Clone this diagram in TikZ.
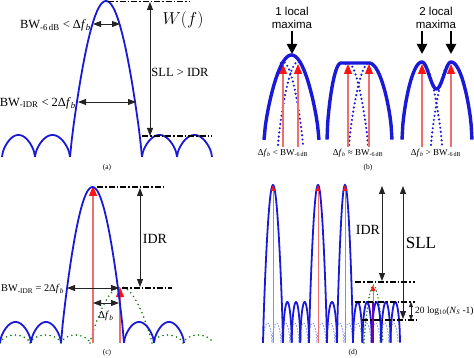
\documentclass[tikz,border=0pt]{standalone}
\usepackage{fontspec}
\setmainfont{Liberation Serif}
\newfontfamily\arialf{Liberation Sans}
\usetikzlibrary{arrows.meta}
\definecolor{lobeblue}{RGB}{25,25,215}
\definecolor{arrred}{RGB}{240,110,110}
\definecolor{headred}{RGB}{250,20,20}
\definecolor{grn}{RGB}{20,125,20}
\definecolor{ltblue}{RGB}{120,140,235}
\definecolor{dimgray}{RGB}{35,35,35}
\definecolor{purp}{RGB}{120,0,170}
\newcommand{\lobe}[6][]{\draw[#1] plot[domain=0:180,samples=41,variable=\t] ({#2+(#3-#2)*\t/180},{#4-#5*pow(max(sin(\t),0.0001),#6)});}
\newcommand{\lobepart}[8][]{\draw[#1] plot[domain=#7:#8,samples=30,variable=\t] ({#2+(#3-#2)*\t/180},{#4-#5*pow(max(sin(\t),0.0001),#6)});}
\newcommand{\dfb}{Δ\textit{f}\textsubscript{\textit{b}}}
\newcommand{\bwsix}{BW\textsubscript{-6\,dB}}
\newcommand{\bwidr}{BW\textsubscript{-IDR}}
\tikzset{
  bluelobe/.style={lobeblue,line width=1.8pt},
  thicklobe/.style={lobeblue,line width=3.4pt},
  dotlobe/.style={lobeblue,line width=2.4pt,line cap=round,dash pattern=on 0pt off 4.2pt},
  greenlobe/.style={grn,line width=1.8pt,line cap=round,dash pattern=on 0pt off 4.6pt},
  ltlobe/.style={ltblue,line width=0.8pt,dash pattern=on 1.5pt off 1.5pt},
  redarr/.style={arrred,line width=1.2pt,-{Triangle[length=10pt,width=8pt,color=headred]}},
  redarrs/.style={arrred,line width=1pt,-{Triangle[length=6pt,width=4.5pt,color=headred]}},
  blackarr/.style={black,line width=2.4pt,-{Triangle[length=10pt,width=10pt]}},
  dimarr/.style={dimgray,line width=0.9pt,{Triangle[length=8pt,width=6pt]}-{Triangle[length=8pt,width=6pt]}},
  dimarrs/.style={dimgray,line width=0.8pt,{Triangle[length=5pt,width=4pt]}-{Triangle[length=5pt,width=4pt]}},
  dashdot/.style={black,line width=1.2pt,dash pattern=on 6pt off 2pt on 1.5pt off 2pt},
  lbl/.style={inner sep=0pt,font=\fontsize{12.5}{14}\selectfont},
  caplbl/.style={inner sep=0pt,font=\fontsize{7.5}{9}\selectfont},
  sanslbl/.style={inner sep=0pt,align=center,font=\arialf\fontsize{11.5}{12.5}\selectfont},
  smalllbl/.style={inner sep=0pt,font=\fontsize{9}{10}\selectfont}
}
\begin{document}
\begin{tikzpicture}[x=1pt,y=-1pt]
\useasboundingbox (0,0) rectangle (474,358);
% ---------------- (a)
\lobe[bluelobe]{2}{35}{157}{22}{0.6}
\lobe[bluelobe]{35}{70}{157}{22}{0.6}
\lobe[bluelobe]{70}{142}{157}{156}{0.86}
\lobe[bluelobe]{142}{177}{157}{22}{0.6}
\lobe[bluelobe]{177}{212}{157}{22}{0.6}
\coordinate (aT1) at (108,1.5); \coordinate (aT2) at (190,1.5);
\coordinate (aB1) at (142,136); \coordinate (aB2) at (212,136);
\draw[dashdot] (aT1) -- (aT2);
\draw[dashdot] (aB1) -- (aB2);
\coordinate (aV1) at (150,2); \coordinate (aV2) at (150,136);
\draw[dimarr] (aV1) -- (aV2);
\node[lbl,font=\fontsize{19}{21}\selectfont] (wf) at (183,20) {$W(f)$};
\node[lbl] (sll) at (180,72) {SLL > IDR};
\coordinate (a6L) at (93,24); \coordinate (a6R) at (120,24);
\draw[dimarr] (a6L) -- (a6R);
\node[lbl,anchor=east] (bw6a) at (91,25) {\bwsix{} < \dfb};
\coordinate (aiL) at (78,102); \coordinate (aiR) at (136,102);
\draw[dimarr] (aiL) -- (aiR);
\node[lbl,anchor=east] (bwia) at (76,103) {\bwidr{} < 2\dfb};
\node[caplbl] (capa) at (107,168) {(a)};
% ---------------- (b)
% left
\lobepart[dotlobe]{263}{303}{145}{83}{0.8}{80}{180}
\lobepart[dotlobe]{278}{318}{145}{83}{0.8}{0}{100}
\coordinate (r1b) at (283,147); \coordinate (r1t) at (283,64);
\coordinate (r2b) at (298,147); \coordinate (r2t) at (298,64);
\draw[redarr] (r1b) -- (r1t);
\draw[redarr] (r2b) -- (r2t);
\lobe[thicklobe]{264}{319}{140}{85}{0.7}
\node[sanslbl] (lm1) at (292,18) {1 local\\maxima};
\coordinate (k1a) at (292,31); \coordinate (k1b) at (292,54);
\draw[blackarr] (k1a) -- (k1b);
\node[smalllbl] (tb1) at (283,153) {\dfb{} < \bwsix};
% middle
\lobepart[dotlobe]{328}{368}{145}{82}{0.8}{80}{180}
\lobepart[dotlobe]{349}{389}{145}{82}{0.8}{0}{100}
\coordinate (r3b) at (348,147); \coordinate (r3t) at (348,64);
\coordinate (r4b) at (369,147); \coordinate (r4t) at (369,64);
\draw[redarr] (r3b) -- (r3t);
\draw[redarr] (r4b) -- (r4t);
\draw[thicklobe,line join=round] plot[domain=0:90,samples=25,variable=\t] ({327+14*\t/90},{140-77*pow(max(sin(\t),0.0001),0.6)})
  -- plot[domain=90:180,samples=25,variable=\t] ({369+23*(\t-90)/90},{140-77*pow(max(sin(\t),0.0001),0.6)});
\node[smalllbl] (tb2) at (358,153) {\dfb{} ≈ \bwsix};
% right
\lobepart[dotlobe]{402}{442}{145}{83}{0.8}{100}{180}
\lobepart[dotlobe]{431}{471}{145}{83}{0.8}{0}{80}
\coordinate (r5b) at (422,147); \coordinate (r5t) at (422,64);
\coordinate (r6b) at (451,147); \coordinate (r6t) at (451,64);
\draw[redarr] (r5b) -- (r5t);
\draw[redarr] (r6b) -- (r6t);
\draw[thicklobe,line join=round] plot[domain=0:90,samples=25,variable=\t] ({402+20*\t/90},{140-78*pow(max(sin(\t),0.0001),0.6)})
  -- plot[domain=0:360,samples=30,variable=\t] ({422+29*\t/360},{62+13.5*(1-cos(\t))})
  -- plot[domain=90:180,samples=25,variable=\t] ({451+21*(\t-90)/90},{140-78*pow(max(sin(\t),0.0001),0.6)});
\node[sanslbl] (lm2) at (436,18) {2 local\\maxima};
\coordinate (k2a) at (422,31); \coordinate (k2b) at (422,54);
\coordinate (k3a) at (451,31); \coordinate (k3b) at (451,54);
\draw[blackarr] (k2a) -- (k2b);
\draw[blackarr] (k3a) -- (k3b);
\node[smalllbl] (tb3) at (436,153) {\dfb{} > \bwsix};
\node[caplbl] (capb) at (368,168) {(b)};
% ---------------- (c)
\lobe[greenlobe]{0}{30}{343}{8}{0.6}
\lobe[greenlobe]{30}{61}{343}{8}{0.6}
\lobe[greenlobe]{61}{90}{343}{8}{0.6}
\lobe[greenlobe]{90}{152}{343}{56}{0.86}
\lobe[greenlobe]{152}{183}{343}{8}{0.6}
\lobe[greenlobe]{183}{213}{343}{8}{0.6}
\coordinate (c1b) at (93,343); \coordinate (c1t) at (93,186);
\coordinate (c2b) at (120,343); \coordinate (c2t) at (120,287);
\draw[redarr] (c1b) -- (c1t);
\draw[redarr] (c2b) -- (c2t);
\lobe[bluelobe]{0}{31}{343}{21}{0.6}
\lobe[bluelobe]{31}{61}{343}{21}{0.6}
\lobe[bluelobe]{61}{124}{343}{156}{0.86}
\lobe[bluelobe]{124}{154}{343}{21}{0.6}
\lobe[bluelobe]{154}{184}{343}{21}{0.6}
\coordinate (cT1) at (97,187); \coordinate (cT2) at (163,187);
\coordinate (cB1) at (122,288); \coordinate (cB2) at (172,288);
\draw[dashdot] (cT1) -- (cT2);
\draw[dashdot] (cB1) -- (cB2);
\coordinate (cV1) at (140,188); \coordinate (cV2) at (140,287);
\draw[dimarr] (cV1) -- (cV2);
\node[lbl,font=\fontsize{14}{16}\selectfont] (idrc) at (155,239) {IDR};
\coordinate (cwL) at (67,288); \coordinate (cwR) at (119,288);
\draw[dimarr] (cwL) -- (cwR);
\node[lbl,anchor=west,font=\fontsize{10.3}{12}\selectfont] (bwic) at (1,289) {\bwidr{} = 2\dfb};
\coordinate (cdL) at (93,303); \coordinate (cdR) at (119,303);
\draw[dimarr] (cdL) -- (cdR);
\node[lbl,font=\fontsize{10.5}{12}\selectfont] (dfc) at (106,316) {\dfb};
\node[caplbl] (capc) at (107,353) {(c)};
% ---------------- (d)
\lobe[ltlobe]{263}{272}{343}{20}{0.6}
\lobe[ltlobe]{272}{281}{343}{20}{0.6}
\lobe[ltlobe]{281}{290}{343}{20}{0.6}
\lobe[ltlobe]{290}{299}{343}{20}{0.6}
\lobe[ltlobe]{299}{308}{343}{20}{0.6}
\lobe[ltlobe]{308}{317}{343}{20}{0.6}
\lobe[ltlobe]{317}{326}{343}{20}{0.6}
\lobe[ltlobe]{326}{335}{343}{20}{0.6}
\lobe[ltlobe]{335}{344}{343}{20}{0.6}
\lobe[ltlobe]{344}{353}{343}{20}{0.6}
\lobe[ltlobe]{353}{362}{343}{20}{0.6}
\lobe[ltlobe]{362}{371}{343}{20}{0.6}
\lobe[ltlobe]{371}{380}{343}{20}{0.6}
\lobe[ltlobe]{380}{389}{343}{20}{0.6}
\lobe[ltlobe]{389}{398}{343}{20}{0.6}
\lobe[greenlobe,line width=1.6pt,dash pattern=on 0pt off 3.5pt]{364}{383}{343}{58}{0.8}
\lobe[bluelobe]{263}{283}{343}{158}{0.8}
\lobe[bluelobe]{309}{327}{343}{158}{0.8}
\lobe[bluelobe]{337}{353}{343}{158}{0.8}
\lobe[bluelobe]{283}{291.7}{343}{41}{0.5}
\lobe[bluelobe]{291.7}{300.3}{343}{41}{0.5}
\lobe[bluelobe]{300.3}{309}{343}{41}{0.5}
\lobe[bluelobe]{327}{337}{343}{41}{0.5}
\lobe[bluelobe]{353}{362.4}{343}{41}{0.5}
\lobe[bluelobe]{362.4}{371.8}{343}{41}{0.5}
\lobe[bluelobe]{371.8}{381.2}{343}{41}{0.5}
\lobe[bluelobe]{381.2}{390.6}{343}{41}{0.5}
\lobe[bluelobe]{390.6}{400}{343}{41}{0.5}
\coordinate (d1b) at (273,343); \coordinate (d1t) at (273,185);
\coordinate (d2b) at (318,343); \coordinate (d2t) at (318,185);
\coordinate (d3b) at (345,343); \coordinate (d3t) at (345,185);
\coordinate (d4b) at (373,343); \coordinate (d4t) at (373,285);
\draw[redarrs] (d1b) -- (d1t);
\draw[redarrs] (d2b) -- (d2t);
\draw[redarrs] (d3b) -- (d3t);
\coordinate (dp1) at (373,302);
\draw[redarrs] (d4b) -- (d4t);
\draw[purp,line width=1.6pt] (d4b) -- (dp1);
\coordinate (dL1a) at (355,282); \coordinate (dL1b) at (415,282);
\coordinate (dL2a) at (355,302); \coordinate (dL2b) at (415,302);
\coordinate (dL3a) at (362,320); \coordinate (dL3b) at (417,320);
\draw[dashdot] (dL1a) -- (dL1b);
\draw[dashdot] (dL2a) -- (dL2b);
\draw[dashdot] (dL3a) -- (dL3b);
\coordinate (dI1) at (382,186); \coordinate (dI2) at (382,281);
\coordinate (dS1) at (403,186); \coordinate (dS2) at (403,319);
\draw[dimarr] (dI1) -- (dI2);
\draw[dimarr] (dS1) -- (dS2);
\coordinate (dn1) at (411,302); \coordinate (dn2) at (411,320);
\draw[dimarrs] (dn1) -- (dn2);
\node[lbl,font=\fontsize{14}{16}\selectfont] (idrd) at (368,230) {IDR};
\node[lbl,font=\fontsize{17}{19}\selectfont] (slld) at (421,243) {SLL};
\node[lbl,anchor=west,font=\fontsize{9.5}{11}\selectfont] (nsd) at (415,311) {20 log\textsubscript{10}(\textit{N}\textsubscript{\textit{S}} -1)};
\node[caplbl] (capd) at (353,353) {(d)};
\end{tikzpicture}
\end{document}
